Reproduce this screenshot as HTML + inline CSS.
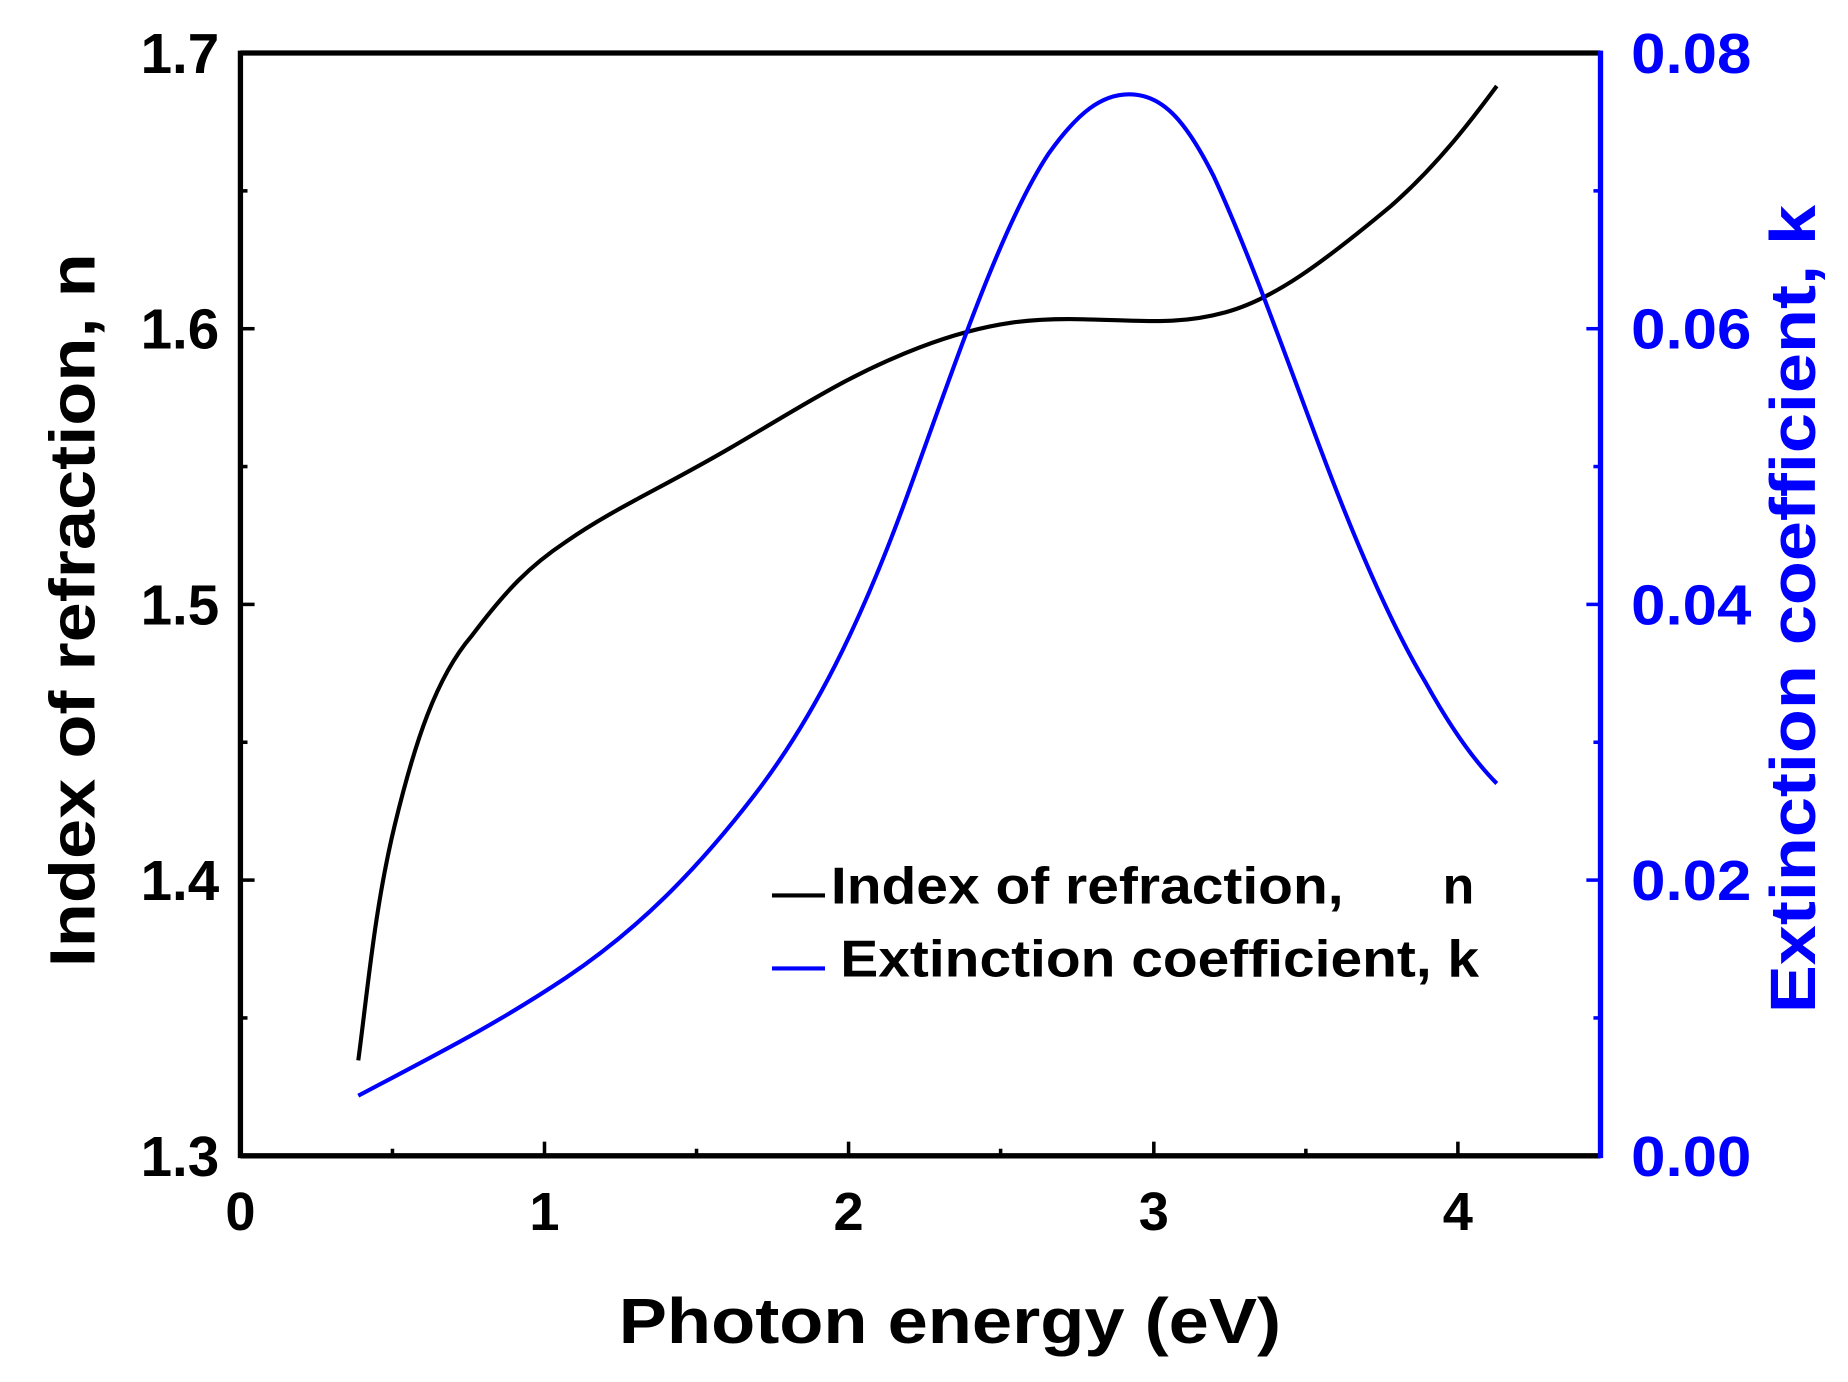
<!DOCTYPE html>
<html><head><meta charset="utf-8"><style>
html,body{margin:0;padding:0;background:#fff;}
svg{display:block;}
text{font-family:"Liberation Sans",Arial,sans-serif;font-weight:bold;}
</style></head><body>
<svg width="1848" height="1382" viewBox="0 0 1568 1173" preserveAspectRatio="none" xmlns="http://www.w3.org/2000/svg">
<rect width="1568" height="1173" fill="#fff"/>
<path d="M304,900 C312,840 318,770 335,700 C352,630 370,575 400,540 C430,500 450,480 480,460 C520,432 560,415 620,380 C680,345 720,318 780,295 C840,272 880,270 920,271 C970,272 1000,276 1040,265 C1080,254 1120,225 1180,175 C1220,140 1250,100 1270,73" fill="none" stroke="#000" stroke-width="3.5"/>
<path d="M304,930 C370,895 420,870 480,830 C540,790 590,740 640,675 C690,610 730,530 770,420 C810,310 850,190 890,130 C915,95 935,80 958,80 C985,80 1005,100 1030,150 C1060,215 1090,300 1120,380 C1150,460 1180,530 1210,580 C1235,625 1255,650 1270,665" fill="none" stroke="#0000ff" stroke-width="3.5"/>
<line x1="204" y1="45" x2="1358" y2="45" stroke="#000" stroke-width="4.5"/>
<line x1="204" y1="981" x2="1358" y2="981" stroke="#000" stroke-width="4.5"/>
<line x1="204" y1="43" x2="204" y2="983" stroke="#000" stroke-width="4.5"/>
<line x1="1358" y1="43" x2="1358" y2="983" stroke="#0000ff" stroke-width="4.5"/>
<g stroke="#000" stroke-width="3">
<line x1="204" y1="279" x2="216" y2="279"/><line x1="204" y1="513" x2="216" y2="513"/><line x1="204" y1="747" x2="216" y2="747"/>
<line x1="204" y1="162" x2="210" y2="162"/><line x1="204" y1="396" x2="210" y2="396"/><line x1="204" y1="630" x2="210" y2="630"/><line x1="204" y1="864" x2="210" y2="864"/>
<line x1="462" y1="981" x2="462" y2="969"/><line x1="720" y1="981" x2="720" y2="969"/><line x1="979" y1="981" x2="979" y2="969"/><line x1="1237" y1="981" x2="1237" y2="969"/>
<line x1="333" y1="981" x2="333" y2="975"/><line x1="591" y1="981" x2="591" y2="975"/><line x1="849" y1="981" x2="849" y2="975"/><line x1="1108" y1="981" x2="1108" y2="975"/>
</g>
<g stroke="#0000ff" stroke-width="3">
<line x1="1346" y1="279" x2="1358" y2="279"/><line x1="1346" y1="513" x2="1358" y2="513"/><line x1="1346" y1="747" x2="1358" y2="747"/>
<line x1="1352" y1="162" x2="1358" y2="162"/><line x1="1352" y1="396" x2="1358" y2="396"/><line x1="1352" y1="630" x2="1358" y2="630"/><line x1="1352" y1="864" x2="1358" y2="864"/>
</g>
<g font-size="48" text-anchor="end" fill="#000">
<text x="186" y="62">1.7</text><text x="186" y="296">1.6</text><text x="186" y="530">1.5</text><text x="186" y="764">1.4</text><text x="186" y="998">1.3</text>
</g>
<g font-size="48" fill="#0000ff">
<text x="1384" y="62" textLength="102" lengthAdjust="spacingAndGlyphs">0.08</text><text x="1384" y="296" textLength="102" lengthAdjust="spacingAndGlyphs">0.06</text><text x="1384" y="530" textLength="102" lengthAdjust="spacingAndGlyphs">0.04</text><text x="1384" y="764" textLength="102" lengthAdjust="spacingAndGlyphs">0.02</text><text x="1384" y="998" textLength="102" lengthAdjust="spacingAndGlyphs">0.00</text>
</g>
<g font-size="46" text-anchor="middle" fill="#000">
<text x="204" y="1044">0</text><text x="462" y="1044">1</text><text x="720" y="1044">2</text><text x="979" y="1044">3</text><text x="1237" y="1044">4</text>
</g>
<text x="806" y="1140" font-size="54" text-anchor="middle" textLength="562" lengthAdjust="spacingAndGlyphs">Photon energy (eV)</text>
<text transform="translate(80,518) rotate(-90)" font-size="54" text-anchor="middle" textLength="606" lengthAdjust="spacingAndGlyphs">Index of refraction, n</text>
<text transform="translate(1540,517) rotate(-90)" font-size="54" text-anchor="middle" fill="#0000ff" textLength="686" lengthAdjust="spacingAndGlyphs">Extinction coefficient, k</text>
<line x1="655" y1="760" x2="700" y2="760" stroke="#000" stroke-width="3.5"/>
<text x="705" y="767" font-size="44" textLength="435" lengthAdjust="spacingAndGlyphs">Index of refraction,</text>
<text x="1224" y="767" font-size="44">n</text>
<line x1="655" y1="822" x2="700" y2="822" stroke="#0000ff" stroke-width="3.5"/>
<text x="713" y="829" font-size="44" textLength="542" lengthAdjust="spacingAndGlyphs">Extinction coefficient, k</text>
</svg>
</body></html>
